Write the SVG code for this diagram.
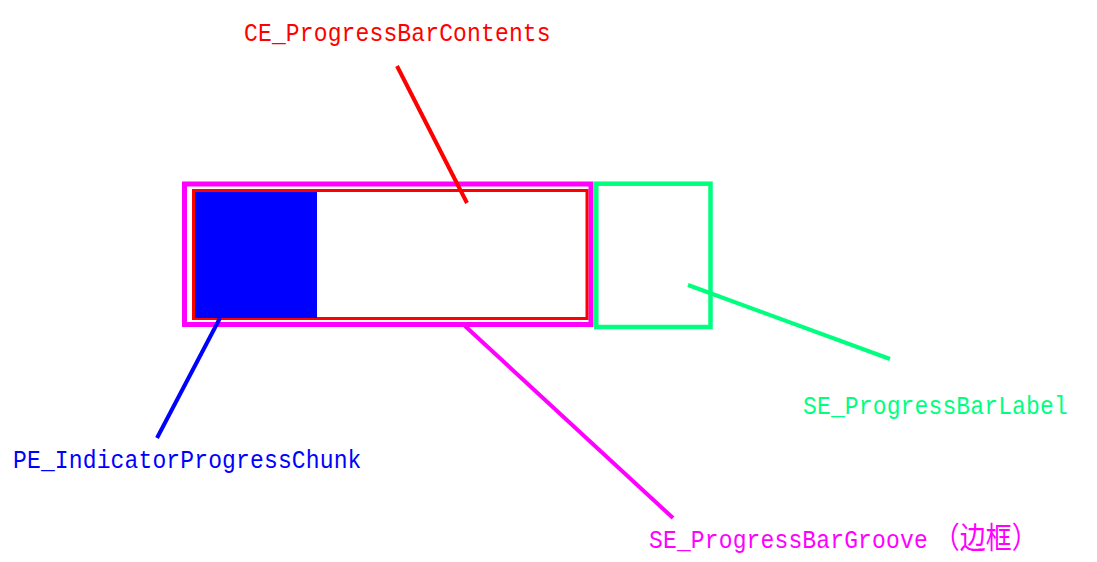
<svg xmlns="http://www.w3.org/2000/svg" width="1097" height="562" viewBox="0 0 1097 562">
<style>
.lbl{font-family:"Liberation Mono","DejaVu Sans Mono",monospace;font-size:23px;letter-spacing:0.15px}
.cjk{font-family:"Noto Sans CJK SC",sans-serif;font-size:26px;letter-spacing:0}
.ln{fill:none;stroke-width:4;stroke-linecap:butt}
</style>
<rect width="1097" height="562" fill="#ffffff"/>
<g id="groove">
<rect x="184.5" y="184" width="406.5" height="140.5" fill="none" stroke="#ff00ff" stroke-width="5"/>
</g>
<g id="contents">
<rect x="193.5" y="190.5" width="393.5" height="128" fill="none" stroke="#ff0000" stroke-width="3"/>
</g>
<g id="chunk">
<rect x="195" y="192" width="122" height="126" fill="#0000ff"/>
</g>
<g id="label">
<rect x="596.3" y="183.7" width="114.2" height="143.3" fill="none" stroke="#00ff7f" stroke-width="4.5"/>
</g>
<g id="connectors">
<line class="ln" x1="397" y1="66" x2="467" y2="203" stroke="#ff0000"/>
<line class="ln" x1="688" y1="285" x2="890" y2="359" stroke="#00ff7f"/>
<line class="ln" x1="220" y1="318" x2="157" y2="438" stroke="#0000ff"/>
<line class="ln" x1="465" y1="326" x2="673" y2="518" stroke="#ff00ff"/>
</g>
<g id="texts">
<text class="lbl" fill="#ff0000" transform="translate(244,41) scale(1,1.15)">CE_ProgressBarContents</text>
<text class="lbl" fill="#00ff7f" transform="translate(803,414) scale(1,1.15)">SE_ProgressBarLabel</text>
<text class="lbl" fill="#0000ff" transform="translate(13,468) scale(1,1.15)">PE_IndicatorProgressChunk</text>
<text class="lbl" fill="#ff00ff" transform="translate(649,548) scale(1,1.15)">SE_ProgressBarGroove<tspan class="cjk" dx="6">（边框）</tspan></text>
</g>
</svg>
